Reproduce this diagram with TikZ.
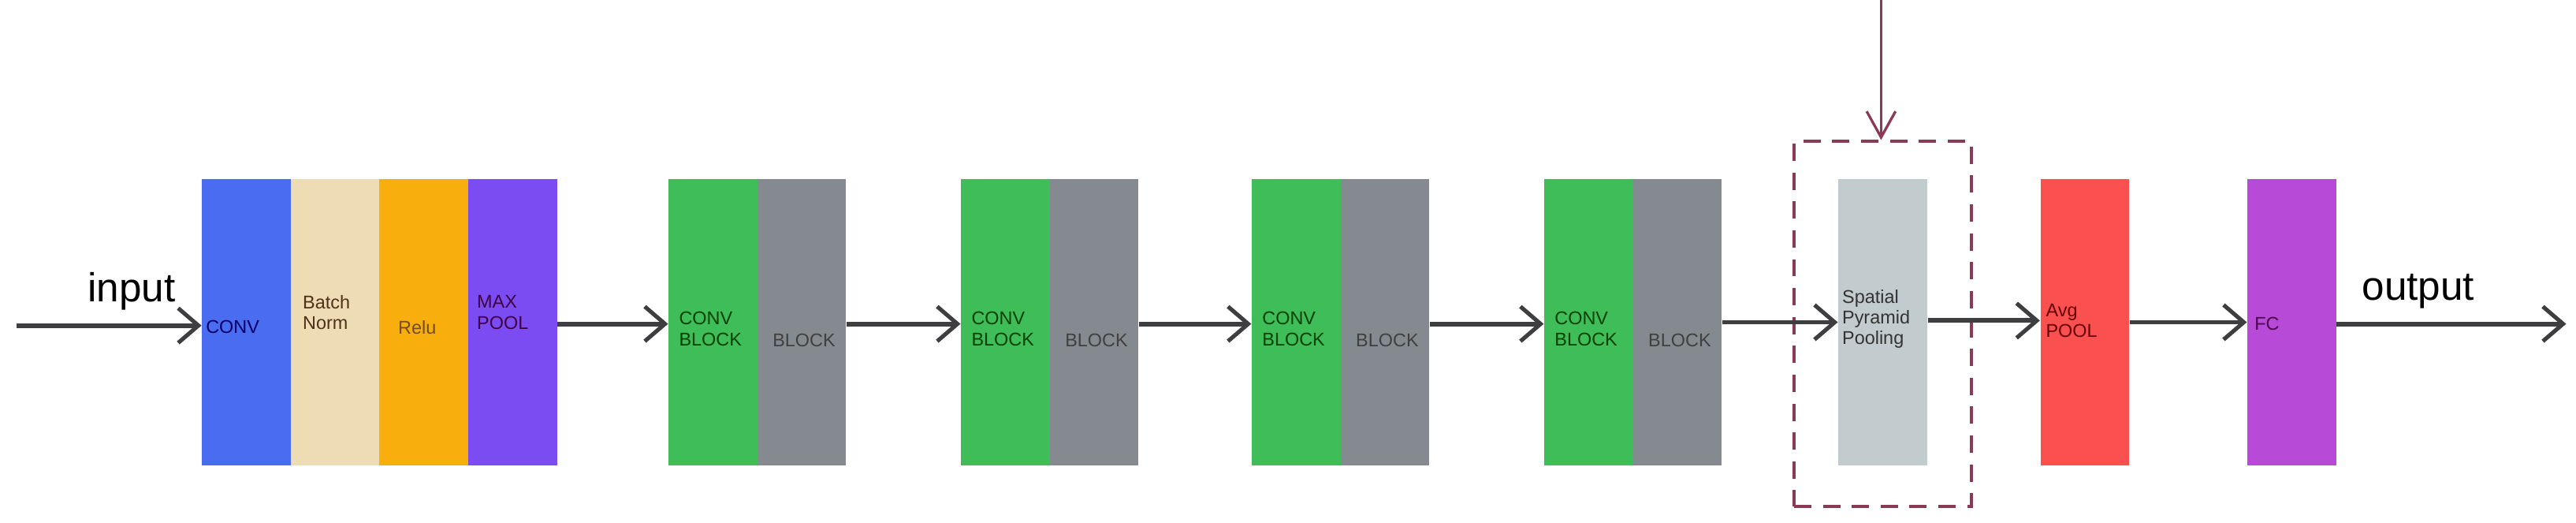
\documentclass[tikz,border=0pt]{standalone}
\usepackage{fontspec}
\setmainfont{Liberation Sans}
\usetikzlibrary{arrows.meta}
\definecolor{cconv}{HTML}{4A6CF0}
\definecolor{cbn}{HTML}{EEDCB5}
\definecolor{crelu}{HTML}{F8AE0C}
\definecolor{cmax}{HTML}{7A4CF2}
\definecolor{cgreen}{HTML}{3FBD58}
\definecolor{cgray}{HTML}{858A90}
\definecolor{cspp}{HTML}{C2CBCE}
\definecolor{cavg}{HTML}{FB5050}
\definecolor{cfc}{HTML}{B84AD8}
\definecolor{carrow}{HTML}{3E3E40}
\definecolor{cmaroon}{HTML}{8A3A55}
\begin{document}
\begin{tikzpicture}[x=0.02cm,y=-0.02cm,
  blk/.style={draw=none,inner sep=0,minimum width=1.08cm,minimum height=3.48cm},
  lbl/.style={font=\fontsize{6.4}{7.2}\selectfont,align=left,inner sep=0,anchor=west},
  big/.style={font=\fontsize{14}{16}\selectfont,inner sep=0},
  arr/.style={draw=carrow,line width=1.6pt,-{Straight Barb[length=7pt,width=12pt,line width=1.4pt]}}]
\useasboundingbox (0,0) rectangle (1568,318);
\node[blk,fill=cconv] (conv) at (150,196) {};
\node[blk,fill=cbn] (bn) at (204,196) {};
\node[blk,fill=crelu] (relu) at (258,196) {};
\node[blk,fill=cmax] (max) at (312,196) {};
\node[lbl,text=blue!40!black] (tconv) at (125,199) {CONV};
\node[lbl,text=brown!40!black] (tbn) at (184,190) {Batch\\Norm};
\node[lbl,text=brown!60!black] (trelu) at (242,199) {Relu};
\node[lbl,text=violet!50!black] (tmax) at (290,190) {MAX\\POOL};
\foreach \i/\x in {1/434,2/612,3/789,4/967}{
  \node[blk,fill=cgreen] (g\i) at (\x,196) {};
  \node[blk,fill=cgray] (k\i) at (\x+54,196) {};
  \node[lbl,text=green!25!black] (tg\i) at (\x-21,200) {CONV\\BLOCK};
  \node[lbl,text=black!75] (tk\i) at (\x+36,207) {BLOCK};
}
\node[draw=cmaroon,dashed,line width=1pt,dash pattern=on 6pt off 4pt,minimum width=2.16cm,minimum height=4.44cm,inner sep=0] (box) at (1146,197) {};
\node[blk,fill=cspp] (spp) at (1146,196) {};
\node[lbl,text=black!80] (tspp) at (1121,194) {Spatial\\Pyramid\\Pooling};
\node[blk,fill=cavg] (avg) at (1269,196) {};
\node[lbl,text=red!40!black] (tavg) at (1245,195) {Avg\\POOL};
\node[blk,fill=cfc] (fc) at (1395,196) {};
\node[lbl,text=violet!60!black] (tfc) at (1372,197) {FC};
\node[big] (tin) at (80,177) {input};
\node[big] (tout) at (472+0,177) {};
\node[big] (tout2) at (1472,177) {output};
\coordinate (start) at (10,198);
\coordinate (end) at (1562,197);
\coordinate (top) at (1145,0);
\draw[arr] (start) -- (conv.west |- start);
\draw[arr] (max.east |- 0,197) -- (g1.west |- 0,197);
\draw[arr] (k1.east |- 0,197) -- (g2.west |- 0,197);
\draw[arr] (k2.east |- 0,197) -- (g3.west |- 0,197);
\draw[arr] (k3.east |- 0,197) -- (g4.west |- 0,197);
\draw[arr] (k4.east |- 0,196) -- (spp.west |- 0,196);
\draw[arr] (spp.east |- 0,195) -- (avg.west |- 0,195);
\draw[arr] (avg.east |- 0,196) -- (fc.west |- 0,196);
\draw[arr] (fc.east |- 0,197) -- (end);
\draw[draw=cmaroon,line width=0.9pt,-{Straight Barb[length=9pt,width=10pt,line width=0.9pt]}] (top) -- (top |- box.north);
\end{tikzpicture}
\end{document}
